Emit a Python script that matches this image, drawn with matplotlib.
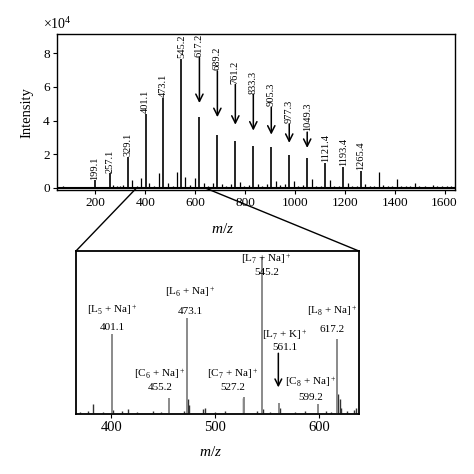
import matplotlib
matplotlib.use("Agg")
import matplotlib.pyplot as plt
from matplotlib.patches import ConnectionPatch

plt.rcParams['font.family'] = ['Liberation Serif', 'DejaVu Serif']
plt.rcParams['mathtext.fontset'] = 'custom'
plt.rcParams['mathtext.rm'] = 'Liberation Serif'
plt.rcParams['mathtext.it'] = 'Liberation Serif:italic'

# ---------------- data: full spectrum (intensity x10^4) ----------------
main_mz = [199.1, 257.1, 329.1, 401.1, 473.1, 545.2, 617.2, 689.2, 761.2,
           833.3, 905.3, 977.3, 1049.3, 1121.4, 1193.4, 1265.4]
main_int = [0.43, 0.85, 1.82, 4.39, 5.34, 7.65, 4.19, 3.16, 2.79,
            2.49, 2.41, 1.94, 1.78, 1.50, 1.23, 0.99]
main_labels = ["199.1", "257.1", "329.1", "401.1", "473.1", "545.2", "617.2",
               "689.2", "761.2", "833.3", "905.3", "977.3", "1049.3",
               "1121.4", "1193.4", "1265.4"]
# peaks marked by arrows: label base and arrow head heights
arrow_mz = [617.2, 689.2, 761.2, 833.3, 905.3, 977.3, 1049.3]
arrow_label_y = [7.8, 7.0, 6.2, 5.6, 4.85, 3.85, 3.36]
arrow_head_y = [5.04, 4.2, 3.75, 3.4, 3.16, 2.67, 2.37]

minor_mz = [70, 85, 100, 120, 150, 180, 215, 240, 270, 285, 300, 311, 345,
            365, 383, 417, 437, 455, 490, 510, 527, 561, 580, 599, 635, 653,
            671, 707, 725, 743, 779, 797, 815, 851, 869, 887, 923, 941, 959,
            995, 1013, 1031, 1067, 1085, 1103, 1139, 1157, 1175, 1211, 1229,
            1247, 1283, 1301, 1319, 1337, 1355, 1373, 1391, 1409, 1427, 1445,
            1463, 1481, 1499, 1520, 1553, 1570, 1590, 1610, 1625, 1640]
minor_int = [0.08, 0.06, 0.05, 0.04, 0.05, 0.06, 0.05, 0.04, 0.18, 0.12,
             0.08, 0.15, 0.47, 0.10, 0.55, 0.30, 0.10, 0.89, 0.30, 0.12,
             0.95, 0.65, 0.15, 0.55, 0.30, 0.12, 0.30, 0.24, 0.10, 0.20,
             0.35, 0.12, 0.15, 0.24, 0.12, 0.20, 0.40, 0.15, 0.20, 0.38,
             0.12, 0.15, 0.49, 0.12, 0.10, 0.43, 0.12, 0.10, 0.28, 0.10,
             0.10, 0.20, 0.10, 0.10, 0.95, 0.15, 0.10, 0.10, 0.49, 0.12,
             0.10, 0.10, 0.30, 0.10, 0.08, 0.15, 0.08, 0.10, 0.10, 0.12, 0.10]

x_ticks = [200, 400, 600, 800, 1000, 1200, 1400, 1600]
y_ticks = [0, 2, 4, 6, 8]

# ---------------- data: zoomed region (relative intensity) ----------------
zoom_range = [366, 638]
zoom_main_mz = [401.1, 455.2, 473.1, 527.2, 545.2, 561.1, 599.2, 617.2]
zoom_main_int = [0.49, 0.092, 0.59, 0.10, 0.96, 0.065, 0.058, 0.46]
zoom_minor_mz = [370, 378, 382.2, 392, 401.5, 410, 416, 425, 440, 448, 470,
                 474, 475, 488, 490, 500, 509, 526.5, 540, 546.3, 553, 562,
                 577, 586, 606, 611, 618, 619.5, 621, 627, 633, 635]
zoom_minor_int = [0.01, 0.012, 0.057, 0.01, 0.02, 0.012, 0.025, 0.01, 0.012,
                  0.01, 0.015, 0.09, 0.05, 0.025, 0.03, 0.01, 0.012, 0.095,
                  0.012, 0.025, 0.01, 0.03, 0.01, 0.012, 0.012, 0.01, 0.12,
                  0.09, 0.03, 0.012, 0.02, 0.035]
zoom_ion_labels = [r"[L$_5$ + Na]$^+$", r"[L$_6$ + Na]$^+$", r"[L$_7$ + Na]$^+$",
                   r"[L$_8$ + Na]$^+$", r"[L$_7$ + K]$^+$", r"[C$_6$ + Na]$^+$",
                   r"[C$_7$ + Na]$^+$", r"[C$_8$ + Na]$^+$"]
zoom_ion_values = ["401.1", "473.1", "545.2", "617.2", "561.1", "455.2",
                   "527.2", "599.2"]
zoom_ion_x = [401, 475.6, 549, 612, 567, 446.8, 517, 591.6]
zoom_ion_y = [0.638, 0.75, 0.95, 0.628, 0.485, 0.245, 0.245, 0.19]
zoom_val_y = [0.528, 0.63, 0.865, 0.515, 0.405, 0.16, 0.16, 0.10]
zoom_arrow_mz = 560.6
zoom_arrow_y = [0.37, 0.16]
zoom_ticks = [400, 500, 600]

# ---------------- figure ----------------
fig = plt.figure(figsize=(4.74, 4.74), dpi=100)
ax = fig.add_axes([0.1196, 0.599, 0.8404, 0.3286])

ax.vlines(minor_mz, 0, minor_int, color='black', lw=0.9)
ax.vlines(main_mz, 0, main_int, color='black', lw=1.2)
ax.axhline(0, color='black', lw=1.5, zorder=1)

arrow_set = set(arrow_mz)
for x, h, lab in zip(main_mz, main_int, main_labels):
    if x in arrow_set:
        continue
    ax.text(x, h + 0.05, lab, rotation=90, ha='center', va='bottom',
            fontsize=7.5)
for x, ly, hy in zip(arrow_mz, arrow_label_y, arrow_head_y):
    lab = main_labels[main_mz.index(x)]
    ax.text(x, ly, lab, rotation=90, ha='center', va='bottom', fontsize=7.5)
    ax.annotate('', xy=(x, hy), xytext=(x, ly - 0.05),
                arrowprops=dict(arrowstyle='->', lw=1.1, color='black',
                                mutation_scale=13, shrinkA=0, shrinkB=0))

ax.set_xlim(45, 1642)
ax.set_ylim(-0.14, 9.13)
ax.set_xticks(x_ticks)
ax.set_yticks(y_ticks)
ax.tick_params(labelsize=9.5, length=3, width=0.8, direction='out', pad=2)
for s in ax.spines.values():
    s.set_linewidth(1.0)
ax.set_ylabel("Intensity", fontsize=10.5, labelpad=7)
ax.text(-0.035, 1.015, r"$\times$10$^4$", transform=ax.transAxes,
        fontsize=10, ha='left', va='bottom')
fig.text(222.7 / 474, 1 - 229 / 474, r"$m/z$", fontsize=11, ha='center',
         va='center')

# ---------------- inset ----------------
ax2 = fig.add_axes([0.1603, 0.1266, 0.5967, 0.3439])
ax2.vlines(zoom_minor_mz, 0, zoom_minor_int, color='#333333', lw=1.0)
ax2.vlines(zoom_main_mz, 0, zoom_main_int, color='#8a8a8a', lw=1.4)
ax2.set_xlim(*zoom_range)
ax2.set_ylim(-0.004, 1.0)
ax2.set_yticks([])
ax2.set_xticks(zoom_ticks)
ax2.tick_params(labelsize=10.5, length=3, width=0.8, direction='out', pad=2)
for s in ax2.spines.values():
    s.set_linewidth(1.3)
for lab, val, x, y1, y2 in zip(zoom_ion_labels, zoom_ion_values, zoom_ion_x,
                               zoom_ion_y, zoom_val_y):
    ax2.text(x, y1, lab, ha='center', va='center', fontsize=8)
    ax2.text(x, y2, val, ha='center', va='center', fontsize=8)
ax2.annotate('', xy=(zoom_arrow_mz, zoom_arrow_y[1]),
             xytext=(zoom_arrow_mz, zoom_arrow_y[0]),
             arrowprops=dict(arrowstyle='->', lw=1.1, color='black',
                             mutation_scale=12, shrinkA=0, shrinkB=0))
fig.text(210 / 474, 1 - 452 / 474, r"$m/z$", fontsize=11, ha='center',
         va='center')

# connection lines
for xd, xa in [(zoom_range[0], 0), (zoom_range[1], 1)]:
    cp = ConnectionPatch(xyA=(xd, 0), coordsA=ax.transData,
                         xyB=(xa, 1), coordsB=ax2.transAxes,
                         color='black', lw=1.0)
    fig.add_artist(cp)

fig.savefig("out.png", dpi=100)
